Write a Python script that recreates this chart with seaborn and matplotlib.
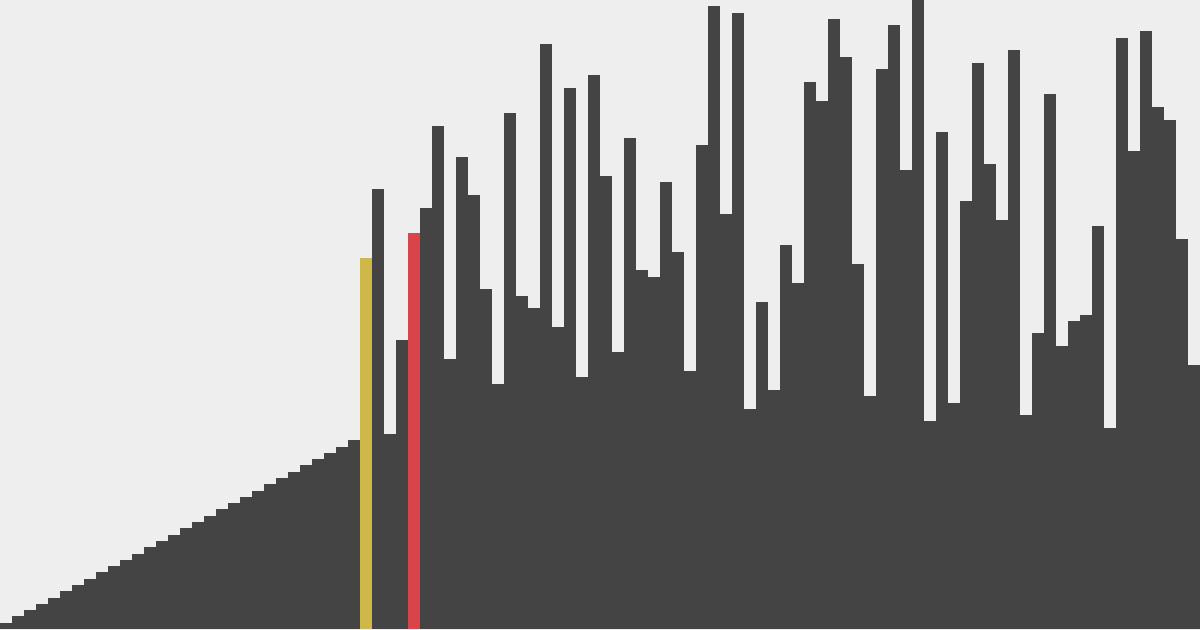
import matplotlib
matplotlib.use("Agg")
import matplotlib.pyplot as plt
import seaborn as sns
import pandas as pd

# Sorting-visualisation snapshot: sorted prefix followed by unsorted remainder
sorted_part = [1, 2, 3, 4, 5, 6, 7, 8, 9, 10, 11, 12, 13, 14, 15,
               16, 17, 18, 19, 20, 21, 22, 23, 24, 25, 26, 27, 28, 29, 30]
unsorted_part = [59, 70, 31, 46, 63, 67, 80, 43, 75, 69, 54, 39, 82, 53, 51,
                 93, 48, 86, 40, 88, 72, 44, 78, 57, 56, 71, 60, 41, 77, 99,
                 66, 98, 35, 52, 38, 61, 55, 87, 84, 97, 91, 58, 37, 89, 96,
                 73, 100, 33, 79, 36, 68, 90, 74, 65, 92, 34, 47, 85, 45, 49,
                 50, 64, 32, 94, 76, 95, 83, 81, 62, 42]
values = sorted_part + unsorted_part
highlight_current = 30   # yellow
highlight_compare = 34   # red

states = ["normal"] * len(values)
states[highlight_current] = "current"
states[highlight_compare] = "compare"

df = pd.DataFrame({"idx": list(range(len(values))), "value": values, "state": states})
palette = {"normal": "#444444", "current": "#cfb84a", "compare": "#d9434a"}

sns.set_theme(style="white")
fig = plt.figure(figsize=(12, 6.3), dpi=100)
fig.patch.set_facecolor("#eeeeee")
ax = fig.add_axes([0, 1 / 630, 1, 629 / 630])
ax.set_facecolor("#eeeeee")

sns.barplot(data=df, x="idx", y="value", hue="state", palette=palette,
            dodge=False, width=1.0, legend=False, linewidth=0, ax=ax,
            saturation=1)

ax.set_xlim(-0.5, len(values) - 0.5)
ax.set_ylim(0, 100)
ax.axis("off")

fig.savefig("out.png", dpi=100, facecolor=fig.get_facecolor())
